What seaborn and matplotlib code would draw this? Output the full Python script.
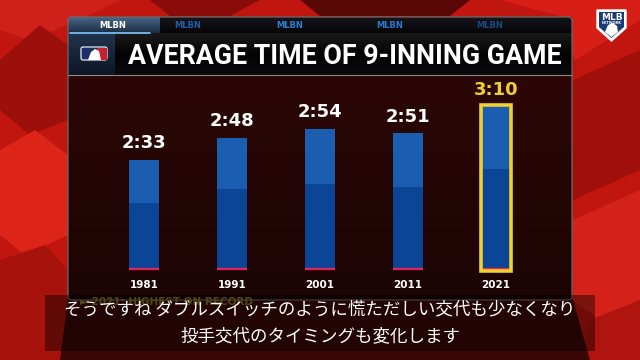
import matplotlib
matplotlib.use("Agg")
import matplotlib.pyplot as plt
from matplotlib.patches import Rectangle, Polygon, FancyBboxPatch
import numpy as np
import pandas as pd
import seaborn as sns

# chart data
years = ["1981", "1991", "2001", "2011", "2021"]
minutes = [153, 168, 174, 171, 190]
time_labels = ["2:33", "2:48", "2:54", "2:51", "3:10"]

title = "AVERAGE TIME OF 9-INNING GAME"
footer = "\u25ba 2021: HIGHEST ON RECORD"
subtitle_1 = "そうですね ダブルスイッチのように慌ただしい交代も少なくなり"
subtitle_2 = "投手交代のタイミングも変化します"
tab_names = ["MLBN", "MLBN", "MLBN", "MLBN", "MLBN"]

base = 78.6          # minutes at the floor of the chart
light_blue = "#1b5db0"
dark_blue = "#0d4596"
gold = "#f0d030"

sns.set_theme(style="white")
plt.rcParams["font.family"] = ["DejaVu Sans", "Noto Sans CJK JP"]

fig = plt.figure(figsize=(6.4, 3.6), dpi=100)
fig.patch.set_facecolor("#c0160f")

# ---- background / frame, pixel coordinates
bg = fig.add_axes([0, 0, 1, 1], zorder=-1)
bg.set_xlim(0, 640)
bg.set_ylim(360, 0)
bg.axis("off")

red_shapes = [
    ([(0, 0), (120, 0), (90, 15), (30, 40), (0, 30)], "#d0201a"),
    ([(0, 60), (40, 25), (68, 45), (68, 120), (30, 135), (0, 110)], "#9c0f0a"),
    ([(0, 150), (35, 130), (68, 155), (68, 235), (25, 255), (0, 235)], "#dc2418"),
    ([(0, 260), (45, 245), (68, 270), (68, 360), (0, 360)], "#a8120c"),
    ([(150, 0), (260, 0), (230, 16), (170, 16)], "#8a0c08"),
    ([(300, 0), (470, 0), (450, 16), (320, 16)], "#5a0806"),
    ([(500, 0), (640, 0), (640, 20), (575, 60), (560, 16)], "#d81f17"),
    ([(573, 80), (640, 50), (640, 170), (573, 200)], "#a00f0a"),
    ([(573, 220), (640, 190), (640, 300), (600, 320), (573, 300)], "#d4221a"),
    ([(590, 320), (640, 300), (640, 360), (580, 360)], "#b0140e"),
    ([(68, 300), (573, 300), (590, 360), (60, 360)], "#3a0706"),
]
for pts, col in red_shapes:
    bg.add_patch(Polygon(pts, closed=True, facecolor=col, edgecolor="none"))

# panel body with a soft vertical gradient
grad = np.linspace(0, 1, 100)[:, None]
panel_cmap = matplotlib.colors.LinearSegmentedColormap.from_list("p", ["#2c0707", "#1c0404"])
bg.imshow(grad, extent=(68, 572, 300, 75), cmap=panel_cmap, aspect="auto", zorder=1)

# tab bar
tab_cmap = matplotlib.colors.LinearSegmentedColormap.from_list("t", ["#15151c", "#060608"])
bg.imshow(grad, extent=(68, 572, 33, 17), cmap=tab_cmap, aspect="auto", zorder=1)
act_cmap = matplotlib.colors.LinearSegmentedColormap.from_list("a", ["#4a6786", "#1b2c42"])
bg.imshow(grad, extent=(68, 160, 33, 17), cmap=act_cmap, aspect="auto", zorder=2)
bg.plot([70, 150], [33, 33], color="#7fc8ff", lw=1.2, zorder=3)
for i, (tx, name) in enumerate(zip([113, 188, 290, 390, 490], tab_names)):
    bg.text(tx, 25, name, color="white" if i == 0 else ["#1f5fa8", "#2f7fd8", "#2a78d0", "#184a80"][i - 1],
            fontsize=6, fontweight="bold", ha="center", va="center", zorder=4)

# title bar
title_cmap = matplotlib.colors.LinearSegmentedColormap.from_list("h", ["#1a1a1a", "#030303", "#0b0b0b"])
bg.imshow(grad, extent=(68, 572, 75, 33), cmap=title_cmap, aspect="auto", zorder=1)
logo_cmap = matplotlib.colors.LinearSegmentedColormap.from_list("l", ["#22344e", "#0c1626"])
bg.imshow(grad, extent=(68, 115, 75, 33), cmap=logo_cmap, aspect="auto", zorder=2)
bg.plot([68, 572], [75, 75], color="#8a8a8a", lw=0.8, zorder=3)

# MLB logo in title bar
bg.add_patch(FancyBboxPatch((81, 47), 26, 13, boxstyle="round,pad=0,rounding_size=2",
                            facecolor="#1a2f6b", edgecolor="white", lw=0.8, zorder=4))
bg.add_patch(Rectangle((97, 47.5), 9.5, 12, facecolor="#c8202a", edgecolor="none", zorder=4))
bg.add_patch(Polygon([(88, 60), (91, 52), (95, 49), (99, 51), (101, 60)], facecolor="white",
                     edgecolor="none", zorder=5))

# panel border
bg.add_patch(FancyBboxPatch((68, 17), 504, 283, boxstyle="round,pad=0,rounding_size=4",
                            facecolor="none", edgecolor="#6a6a6a", lw=0.9, zorder=5))

# MLB Network shield, top right
bg.add_patch(Polygon([(597, 10), (626, 10), (626, 28), (611.5, 41), (597, 28)],
                     facecolor="white", edgecolor="white", lw=1, zorder=4))
bg.add_patch(Polygon([(599, 12), (624, 12), (624, 27), (611.5, 38), (599, 27)],
                     facecolor="#1b3a78", edgecolor="none", zorder=5))
bg.add_patch(Polygon([(605, 32), (608, 25), (613, 23), (617, 26), (618, 32), (611.5, 37)],
                     facecolor="white", edgecolor="none", zorder=6))
bg.text(611.5, 17.5, "MLB", color="white", fontsize=6.5, fontweight="bold", ha="center", va="center", zorder=6)
bg.text(611.5, 23.5, "NETWORK", color="white", fontsize=2.5, fontweight="bold", ha="center", va="center", zorder=6)

bg.text(80, 302, footer, color="#8c7a22", fontsize=7.5, fontweight="bold", ha="left", va="center", zorder=6)

# title, fitted to the bar width
t = bg.text(128, 56, title, color="white", fontsize=18, fontweight="bold",
            family=["Roboto", "DejaVu Sans"], ha="left", va="center", zorder=6)
r = fig.canvas.get_renderer()
w = t.get_window_extent(r).width
t.set_fontsize(18 * 434 / w)

# ---- the bar chart
df = pd.DataFrame({"year": years, "minutes": minutes})
df["lower"] = [base + 0.61 * (m - base) for m in minutes]

ax = fig.add_axes([100 / 640, 0.25, 440 / 640, 0.5], zorder=1)
ax.patch.set_alpha(0)
sns.barplot(data=df, x="year", y="minutes", color=light_blue, saturation=1, width=0.34,
            edgecolor="none", linewidth=0, ax=ax)
n = len(ax.patches)
sns.barplot(data=df, x="year", y="lower", color=dark_blue, saturation=1, width=0.34,
            edgecolor="none", linewidth=0, ax=ax)
ax.set_xlim(-0.5, len(years) - 0.5)
ax.set_ylim(base, 200.2)

for i, p in enumerate(ax.patches[:n]):
    x0, wd = p.get_x(), p.get_width()
    top = p.get_height()
    last = i == len(years) - 1
    ax.hlines(base + 0.4, x0, x0 + wd, color="#e0245a", lw=1.6, zorder=4, clip_on=False)
    if last:
        ax.add_patch(Rectangle((x0, base - 0.8), wd, top - base + 0.8, fill=False,
                               edgecolor=gold, lw=2.6, zorder=5, clip_on=False))
    ax.annotate(time_labels[i], (x0 + wd / 2, top), xytext=(0, 4.5 if last else 5.5),
                textcoords="offset points", ha="center", va="bottom",
                color=gold if last else "white", fontsize=13, fontweight="bold")

ax.set_xlabel("")
ax.set_ylabel("")
ax.set_yticks([])
ax.tick_params(axis="x", length=0, pad=7, labelsize=7.5, labelcolor="white")
for lab in ax.get_xticklabels():
    lab.set_fontweight("bold")
sns.despine(ax=ax, left=True, bottom=True)

# ---- subtitles on top
top_ax = fig.add_axes([0, 0, 1, 1], zorder=5)
top_ax.set_xlim(0, 640)
top_ax.set_ylim(360, 0)
top_ax.axis("off")
top_ax.patch.set_alpha(0)
top_ax.add_patch(Rectangle((45, 295), 550, 56, facecolor="black", alpha=0.42, edgecolor="none"))
top_ax.text(320, 309, subtitle_1, color="white", fontsize=12.6, ha="center", va="center",
            family=["Noto Sans CJK JP", "DejaVu Sans"])
top_ax.text(320, 336, subtitle_2, color="white", fontsize=12.6, ha="center", va="center",
            family=["Noto Sans CJK JP", "DejaVu Sans"])

fig.savefig("out.png", dpi=100, facecolor=fig.get_facecolor())
